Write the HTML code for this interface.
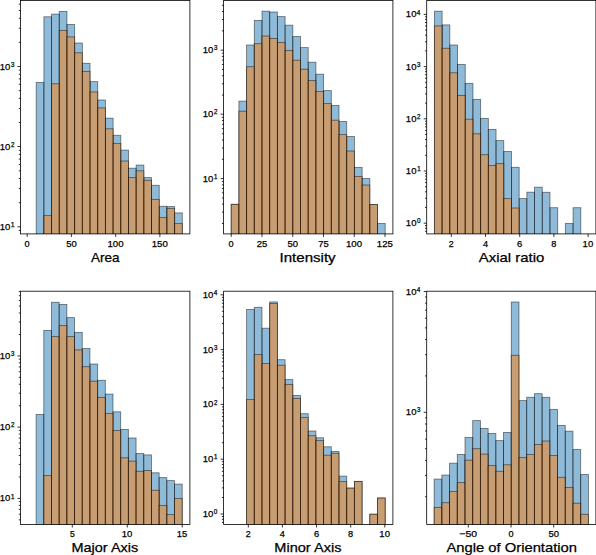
<!DOCTYPE html><html><head><meta charset="utf-8"><style>html,body{margin:0;padding:0;background:#fff;width:596px;height:555px;overflow:hidden}svg{display:block}text{font-family:"Liberation Sans", sans-serif;stroke:#000;stroke-width:0.25px}</style></head><body>
<svg width="596" height="555" viewBox="0 0 596 555">
<rect width="596" height="555" fill="#fff"/>
<defs><clipPath id="c0"><rect x="20.5" y="0.5" width="169.4" height="233.4"/></clipPath><clipPath id="c1"><rect x="223.6" y="0.5" width="169.3" height="233.4"/></clipPath><clipPath id="c2"><rect x="426.7" y="0.5" width="169.2" height="233.4"/></clipPath><clipPath id="c3"><rect x="20.5" y="291.2" width="169.4" height="233.3"/></clipPath><clipPath id="c4"><rect x="223.6" y="291.2" width="169.3" height="233.3"/></clipPath><clipPath id="c5"><rect x="426.7" y="291.2" width="169.2" height="233.3"/></clipPath></defs>
<g clip-path="url(#c0)" stroke="#000" stroke-opacity="0.5" stroke-width="0.87">
<rect x="36.2" y="82.4" width="7.69" height="156.5" fill="#1f77b4" fill-opacity="0.5"/>
<rect x="43.89" y="16.8" width="7.69" height="222.1" fill="#1f77b4" fill-opacity="0.5"/>
<rect x="51.58" y="14.1" width="7.69" height="224.8" fill="#1f77b4" fill-opacity="0.5"/>
<rect x="59.27" y="11.4" width="7.69" height="227.5" fill="#1f77b4" fill-opacity="0.5"/>
<rect x="66.96" y="24.5" width="7.69" height="214.4" fill="#1f77b4" fill-opacity="0.5"/>
<rect x="74.65" y="43" width="7.69" height="195.9" fill="#1f77b4" fill-opacity="0.5"/>
<rect x="82.34" y="63.3" width="7.69" height="175.6" fill="#1f77b4" fill-opacity="0.5"/>
<rect x="90.03" y="81.6" width="7.69" height="157.3" fill="#1f77b4" fill-opacity="0.5"/>
<rect x="97.72" y="100" width="7.69" height="138.9" fill="#1f77b4" fill-opacity="0.5"/>
<rect x="105.41" y="118.2" width="7.69" height="120.7" fill="#1f77b4" fill-opacity="0.5"/>
<rect x="113.09" y="135.3" width="7.69" height="103.6" fill="#1f77b4" fill-opacity="0.5"/>
<rect x="120.78" y="150.1" width="7.69" height="88.8" fill="#1f77b4" fill-opacity="0.5"/>
<rect x="128.47" y="168.2" width="7.69" height="70.7" fill="#1f77b4" fill-opacity="0.5"/>
<rect x="136.16" y="165.1" width="7.69" height="73.8" fill="#1f77b4" fill-opacity="0.5"/>
<rect x="143.85" y="177.6" width="7.69" height="61.3" fill="#1f77b4" fill-opacity="0.5"/>
<rect x="151.54" y="185.3" width="7.69" height="53.6" fill="#1f77b4" fill-opacity="0.5"/>
<rect x="159.23" y="206.3" width="7.69" height="32.6" fill="#1f77b4" fill-opacity="0.5"/>
<rect x="166.92" y="206.6" width="7.69" height="32.3" fill="#1f77b4" fill-opacity="0.5"/>
<rect x="174.61" y="212.9" width="7.69" height="26" fill="#1f77b4" fill-opacity="0.5"/>
<rect x="43.89" y="215.6" width="7.69" height="23.3" fill="#ff7f0e" fill-opacity="0.5"/>
<rect x="51.58" y="83.8" width="7.69" height="155.1" fill="#ff7f0e" fill-opacity="0.5"/>
<rect x="59.27" y="30.4" width="7.69" height="208.5" fill="#ff7f0e" fill-opacity="0.5"/>
<rect x="66.96" y="36.9" width="7.69" height="202" fill="#ff7f0e" fill-opacity="0.5"/>
<rect x="74.65" y="52.8" width="7.69" height="186.1" fill="#ff7f0e" fill-opacity="0.5"/>
<rect x="82.34" y="71.4" width="7.69" height="167.5" fill="#ff7f0e" fill-opacity="0.5"/>
<rect x="90.03" y="92" width="7.69" height="146.9" fill="#ff7f0e" fill-opacity="0.5"/>
<rect x="97.72" y="107.9" width="7.69" height="131" fill="#ff7f0e" fill-opacity="0.5"/>
<rect x="105.41" y="128.8" width="7.69" height="110.1" fill="#ff7f0e" fill-opacity="0.5"/>
<rect x="113.09" y="143.5" width="7.69" height="95.4" fill="#ff7f0e" fill-opacity="0.5"/>
<rect x="120.78" y="161" width="7.69" height="77.9" fill="#ff7f0e" fill-opacity="0.5"/>
<rect x="128.47" y="177.6" width="7.69" height="61.3" fill="#ff7f0e" fill-opacity="0.5"/>
<rect x="136.16" y="170.8" width="7.69" height="68.1" fill="#ff7f0e" fill-opacity="0.5"/>
<rect x="143.85" y="180.3" width="7.69" height="58.6" fill="#ff7f0e" fill-opacity="0.5"/>
<rect x="151.54" y="199.4" width="7.69" height="39.5" fill="#ff7f0e" fill-opacity="0.5"/>
<rect x="159.23" y="217.6" width="7.69" height="21.3" fill="#ff7f0e" fill-opacity="0.5"/>
<rect x="166.92" y="208.4" width="7.69" height="30.5" fill="#ff7f0e" fill-opacity="0.5"/>
<rect x="174.61" y="223.6" width="7.69" height="15.3" fill="#ff7f0e" fill-opacity="0.5"/>
</g>
<rect x="20.5" y="0.5" width="169.4" height="233.4" fill="none" stroke="#000" stroke-width="0.8"/>
<path d="M17.5 66.5H20.5M17.5 146.5H20.5M17.5 226.8H20.5M18.8 230.47H20.5M18.8 202.67H20.5M18.8 188.56H20.5M18.8 178.54H20.5M18.8 170.78H20.5M18.8 164.43H20.5M18.8 159.07H20.5M18.8 154.42H20.5M18.8 150.32H20.5M18.8 122.52H20.5M18.8 108.41H20.5M18.8 98.39H20.5M18.8 90.63H20.5M18.8 84.28H20.5M18.8 78.92H20.5M18.8 74.27H20.5M18.8 70.17H20.5M18.8 42.37H20.5M18.8 28.26H20.5M18.8 18.24H20.5M18.8 10.48H20.5M18.8 4.13H20.5M27.2 233.9V236.9M71.43 233.9V236.9M115.66 233.9V236.9M159.89 233.9V236.9" stroke="#000" stroke-width="0.8" fill="none"/>
<text x="10.89" y="66.6" font-size="6.34" textLength="3.43" lengthAdjust="spacingAndGlyphs">3</text><text x="-0.33" y="69.5" font-size="9.05" textLength="10.61" lengthAdjust="spacingAndGlyphs">10</text>
<text x="10.92" y="146.6" font-size="6.34" textLength="3.45" lengthAdjust="spacingAndGlyphs">2</text><text x="-0.33" y="149.5" font-size="9.05" textLength="10.61" lengthAdjust="spacingAndGlyphs">10</text>
<text x="10.95" y="226.9" font-size="6.34" textLength="3.4" lengthAdjust="spacingAndGlyphs">1</text><text x="-0.33" y="229.8" font-size="9.05" textLength="10.61" lengthAdjust="spacingAndGlyphs">10</text>
<text x="24.64" y="246.55" font-size="9.05" textLength="5.1" lengthAdjust="spacingAndGlyphs">0</text>
<text x="66.15" y="246.55" font-size="9.05" textLength="10.55" lengthAdjust="spacingAndGlyphs">50</text>
<text x="107.43" y="246.55" font-size="9.05" textLength="16.12" lengthAdjust="spacingAndGlyphs">100</text>
<text x="151.66" y="246.55" font-size="9.05" textLength="16.12" lengthAdjust="spacingAndGlyphs">150</text>
<text x="90.91" y="261.8" font-size="13" textLength="28.55" lengthAdjust="spacingAndGlyphs">Area</text>
<g clip-path="url(#c1)" stroke="#000" stroke-opacity="0.5" stroke-width="0.87">
<rect x="231.2" y="204.3" width="7.7" height="34.6" fill="#1f77b4" fill-opacity="0.5"/>
<rect x="238.9" y="101.1" width="7.7" height="137.8" fill="#1f77b4" fill-opacity="0.5"/>
<rect x="246.6" y="45" width="7.7" height="193.9" fill="#1f77b4" fill-opacity="0.5"/>
<rect x="254.3" y="20.5" width="7.7" height="218.4" fill="#1f77b4" fill-opacity="0.5"/>
<rect x="262" y="11.2" width="7.7" height="227.7" fill="#1f77b4" fill-opacity="0.5"/>
<rect x="269.7" y="12" width="7.7" height="226.9" fill="#1f77b4" fill-opacity="0.5"/>
<rect x="277.4" y="16.6" width="7.7" height="222.3" fill="#1f77b4" fill-opacity="0.5"/>
<rect x="285.1" y="25.2" width="7.7" height="213.7" fill="#1f77b4" fill-opacity="0.5"/>
<rect x="292.8" y="36.5" width="7.7" height="202.4" fill="#1f77b4" fill-opacity="0.5"/>
<rect x="300.5" y="47.6" width="7.7" height="191.3" fill="#1f77b4" fill-opacity="0.5"/>
<rect x="308.2" y="62.2" width="7.7" height="176.7" fill="#1f77b4" fill-opacity="0.5"/>
<rect x="315.9" y="74.2" width="7.7" height="164.7" fill="#1f77b4" fill-opacity="0.5"/>
<rect x="323.6" y="90.6" width="7.7" height="148.3" fill="#1f77b4" fill-opacity="0.5"/>
<rect x="331.3" y="105.5" width="7.7" height="133.4" fill="#1f77b4" fill-opacity="0.5"/>
<rect x="339" y="121.5" width="7.7" height="117.4" fill="#1f77b4" fill-opacity="0.5"/>
<rect x="346.7" y="136.5" width="7.7" height="102.4" fill="#1f77b4" fill-opacity="0.5"/>
<rect x="354.4" y="167.4" width="7.7" height="71.5" fill="#1f77b4" fill-opacity="0.5"/>
<rect x="362.1" y="178.5" width="7.7" height="60.4" fill="#1f77b4" fill-opacity="0.5"/>
<rect x="369.8" y="204.5" width="7.7" height="34.4" fill="#1f77b4" fill-opacity="0.5"/>
<rect x="377.5" y="223.5" width="7.7" height="15.4" fill="#1f77b4" fill-opacity="0.5"/>
<rect x="231.2" y="204.3" width="7.7" height="34.6" fill="#ff7f0e" fill-opacity="0.5"/>
<rect x="238.9" y="111.2" width="7.7" height="127.7" fill="#ff7f0e" fill-opacity="0.5"/>
<rect x="246.6" y="66.7" width="7.7" height="172.2" fill="#ff7f0e" fill-opacity="0.5"/>
<rect x="254.3" y="43.7" width="7.7" height="195.2" fill="#ff7f0e" fill-opacity="0.5"/>
<rect x="262" y="36" width="7.7" height="202.9" fill="#ff7f0e" fill-opacity="0.5"/>
<rect x="269.7" y="38.5" width="7.7" height="200.4" fill="#ff7f0e" fill-opacity="0.5"/>
<rect x="277.4" y="42.5" width="7.7" height="196.4" fill="#ff7f0e" fill-opacity="0.5"/>
<rect x="285.1" y="50.5" width="7.7" height="188.4" fill="#ff7f0e" fill-opacity="0.5"/>
<rect x="292.8" y="60.2" width="7.7" height="178.7" fill="#ff7f0e" fill-opacity="0.5"/>
<rect x="300.5" y="69.2" width="7.7" height="169.7" fill="#ff7f0e" fill-opacity="0.5"/>
<rect x="308.2" y="80.6" width="7.7" height="158.3" fill="#ff7f0e" fill-opacity="0.5"/>
<rect x="315.9" y="91.5" width="7.7" height="147.4" fill="#ff7f0e" fill-opacity="0.5"/>
<rect x="323.6" y="103.6" width="7.7" height="135.3" fill="#ff7f0e" fill-opacity="0.5"/>
<rect x="331.3" y="120.2" width="7.7" height="118.7" fill="#ff7f0e" fill-opacity="0.5"/>
<rect x="339" y="134.6" width="7.7" height="104.3" fill="#ff7f0e" fill-opacity="0.5"/>
<rect x="346.7" y="151" width="7.7" height="87.9" fill="#ff7f0e" fill-opacity="0.5"/>
<rect x="354.4" y="176.4" width="7.7" height="62.5" fill="#ff7f0e" fill-opacity="0.5"/>
<rect x="362.1" y="185" width="7.7" height="53.9" fill="#ff7f0e" fill-opacity="0.5"/>
<rect x="369.8" y="204.5" width="7.7" height="34.4" fill="#ff7f0e" fill-opacity="0.5"/>
</g>
<rect x="223.6" y="0.5" width="169.3" height="233.4" fill="none" stroke="#000" stroke-width="0.8"/>
<path d="M220.6 50.2H223.6M220.6 114.2H223.6M220.6 178.6H223.6M221.9 223.47H223.6M221.9 212.17H223.6M221.9 204.15H223.6M221.9 197.93H223.6M221.9 192.84H223.6M221.9 188.54H223.6M221.9 184.82H223.6M221.9 181.54H223.6M221.9 159.27H223.6M221.9 147.97H223.6M221.9 139.95H223.6M221.9 133.73H223.6M221.9 128.64H223.6M221.9 124.34H223.6M221.9 120.62H223.6M221.9 117.34H223.6M221.9 95.07H223.6M221.9 83.77H223.6M221.9 75.75H223.6M221.9 69.53H223.6M221.9 64.44H223.6M221.9 60.14H223.6M221.9 56.42H223.6M221.9 53.14H223.6M221.9 30.87H223.6M221.9 19.57H223.6M221.9 11.55H223.6M221.9 5.33H223.6M231.2 233.9V236.9M261.96 233.9V236.9M292.72 233.9V236.9M323.48 233.9V236.9M354.24 233.9V236.9M385 233.9V236.9" stroke="#000" stroke-width="0.8" fill="none"/>
<text x="213.99" y="50.3" font-size="6.34" textLength="3.43" lengthAdjust="spacingAndGlyphs">3</text><text x="202.77" y="53.2" font-size="9.05" textLength="10.61" lengthAdjust="spacingAndGlyphs">10</text>
<text x="214.02" y="114.3" font-size="6.34" textLength="3.45" lengthAdjust="spacingAndGlyphs">2</text><text x="202.77" y="117.2" font-size="9.05" textLength="10.61" lengthAdjust="spacingAndGlyphs">10</text>
<text x="214.05" y="178.7" font-size="6.34" textLength="3.4" lengthAdjust="spacingAndGlyphs">1</text><text x="202.77" y="181.6" font-size="9.05" textLength="10.61" lengthAdjust="spacingAndGlyphs">10</text>
<text x="228.64" y="246.55" font-size="9.05" textLength="5.1" lengthAdjust="spacingAndGlyphs">0</text>
<text x="256.65" y="246.55" font-size="9.05" textLength="10.54" lengthAdjust="spacingAndGlyphs">25</text>
<text x="287.44" y="246.55" font-size="9.05" textLength="10.55" lengthAdjust="spacingAndGlyphs">50</text>
<text x="318.22" y="246.55" font-size="9.05" textLength="10.45" lengthAdjust="spacingAndGlyphs">75</text>
<text x="346.01" y="246.55" font-size="9.05" textLength="16.12" lengthAdjust="spacingAndGlyphs">100</text>
<text x="376.86" y="246.55" font-size="9.05" textLength="15.96" lengthAdjust="spacingAndGlyphs">125</text>
<text x="279.5" y="261.8" font-size="13" textLength="56.13" lengthAdjust="spacingAndGlyphs">Intensity</text>
<g clip-path="url(#c2)" stroke="#000" stroke-opacity="0.5" stroke-width="0.87">
<rect x="434.4" y="11.2" width="7.71" height="227.7" fill="#1f77b4" fill-opacity="0.5"/>
<rect x="442.1" y="24.9" width="7.71" height="214" fill="#1f77b4" fill-opacity="0.5"/>
<rect x="449.81" y="45" width="7.71" height="193.9" fill="#1f77b4" fill-opacity="0.5"/>
<rect x="457.51" y="64.4" width="7.71" height="174.5" fill="#1f77b4" fill-opacity="0.5"/>
<rect x="465.22" y="83.4" width="7.71" height="155.5" fill="#1f77b4" fill-opacity="0.5"/>
<rect x="472.92" y="99.4" width="7.71" height="139.5" fill="#1f77b4" fill-opacity="0.5"/>
<rect x="480.63" y="118.4" width="7.71" height="120.5" fill="#1f77b4" fill-opacity="0.5"/>
<rect x="488.33" y="129.4" width="7.71" height="109.5" fill="#1f77b4" fill-opacity="0.5"/>
<rect x="496.04" y="140.6" width="7.71" height="98.3" fill="#1f77b4" fill-opacity="0.5"/>
<rect x="503.75" y="151.5" width="7.71" height="87.4" fill="#1f77b4" fill-opacity="0.5"/>
<rect x="511.45" y="167.3" width="7.71" height="71.6" fill="#1f77b4" fill-opacity="0.5"/>
<rect x="519.15" y="198.6" width="7.71" height="40.3" fill="#1f77b4" fill-opacity="0.5"/>
<rect x="526.86" y="192.2" width="7.71" height="46.7" fill="#1f77b4" fill-opacity="0.5"/>
<rect x="534.56" y="187.2" width="7.71" height="51.7" fill="#1f77b4" fill-opacity="0.5"/>
<rect x="542.27" y="192.3" width="7.71" height="46.6" fill="#1f77b4" fill-opacity="0.5"/>
<rect x="549.98" y="207.7" width="7.71" height="31.2" fill="#1f77b4" fill-opacity="0.5"/>
<rect x="565.38" y="223.4" width="7.71" height="15.5" fill="#1f77b4" fill-opacity="0.5"/>
<rect x="573.09" y="207.7" width="7.71" height="31.2" fill="#1f77b4" fill-opacity="0.5"/>
<rect x="434.4" y="25.9" width="7.71" height="213" fill="#ff7f0e" fill-opacity="0.5"/>
<rect x="442.1" y="48.3" width="7.71" height="190.6" fill="#ff7f0e" fill-opacity="0.5"/>
<rect x="449.81" y="72.8" width="7.71" height="166.1" fill="#ff7f0e" fill-opacity="0.5"/>
<rect x="457.51" y="95.4" width="7.71" height="143.5" fill="#ff7f0e" fill-opacity="0.5"/>
<rect x="465.22" y="119.2" width="7.71" height="119.7" fill="#ff7f0e" fill-opacity="0.5"/>
<rect x="472.92" y="133.8" width="7.71" height="105.1" fill="#ff7f0e" fill-opacity="0.5"/>
<rect x="480.63" y="154.7" width="7.71" height="84.2" fill="#ff7f0e" fill-opacity="0.5"/>
<rect x="488.33" y="165.5" width="7.71" height="73.4" fill="#ff7f0e" fill-opacity="0.5"/>
<rect x="496.04" y="163.6" width="7.71" height="75.3" fill="#ff7f0e" fill-opacity="0.5"/>
<rect x="503.75" y="198.6" width="7.71" height="40.3" fill="#ff7f0e" fill-opacity="0.5"/>
<rect x="511.45" y="208" width="7.71" height="30.9" fill="#ff7f0e" fill-opacity="0.5"/>
</g>
<rect x="426.7" y="0.5" width="169.2" height="233.4" fill="none" stroke="#000" stroke-width="0.8"/>
<path d="M423.7 14.4H426.7M423.7 66.6H426.7M423.7 118.8H426.7M423.7 171H426.7M423.7 223.2H426.7M425 231.29H426.7M425 228.26H426.7M425 225.59H426.7M425 207.49H426.7M425 198.29H426.7M425 191.77H426.7M425 186.71H426.7M425 182.58H426.7M425 179.09H426.7M425 176.06H426.7M425 173.39H426.7M425 155.29H426.7M425 146.09H426.7M425 139.57H426.7M425 134.51H426.7M425 130.38H426.7M425 126.89H426.7M425 123.86H426.7M425 121.19H426.7M425 103.09H426.7M425 93.89H426.7M425 87.37H426.7M425 82.31H426.7M425 78.18H426.7M425 74.69H426.7M425 71.66H426.7M425 68.99H426.7M425 50.89H426.7M425 41.69H426.7M425 35.17H426.7M425 30.11H426.7M425 25.98H426.7M425 22.49H426.7M425 19.46H426.7M425 16.79H426.7M451.3 233.9V236.9M485.5 233.9V236.9M519.7 233.9V236.9M553.9 233.9V236.9M588.1 233.9V236.9" stroke="#000" stroke-width="0.8" fill="none"/>
<text x="416.87" y="14.5" font-size="6.34" textLength="3.56" lengthAdjust="spacingAndGlyphs">4</text><text x="405.87" y="17.4" font-size="9.05" textLength="10.61" lengthAdjust="spacingAndGlyphs">10</text>
<text x="417.09" y="66.7" font-size="6.34" textLength="3.43" lengthAdjust="spacingAndGlyphs">3</text><text x="405.87" y="69.6" font-size="9.05" textLength="10.61" lengthAdjust="spacingAndGlyphs">10</text>
<text x="417.12" y="118.9" font-size="6.34" textLength="3.45" lengthAdjust="spacingAndGlyphs">2</text><text x="405.87" y="121.8" font-size="9.05" textLength="10.61" lengthAdjust="spacingAndGlyphs">10</text>
<text x="417.15" y="171.1" font-size="6.34" textLength="3.4" lengthAdjust="spacingAndGlyphs">1</text><text x="405.87" y="174" font-size="9.05" textLength="10.61" lengthAdjust="spacingAndGlyphs">10</text>
<text x="416.93" y="223.3" font-size="6.34" textLength="3.57" lengthAdjust="spacingAndGlyphs">0</text><text x="405.87" y="226.2" font-size="9.05" textLength="10.61" lengthAdjust="spacingAndGlyphs">10</text>
<text x="448.84" y="246.55" font-size="9.05" textLength="4.93" lengthAdjust="spacingAndGlyphs">2</text>
<text x="482.99" y="246.55" font-size="9.05" textLength="5.08" lengthAdjust="spacingAndGlyphs">4</text>
<text x="517.05" y="246.55" font-size="9.05" textLength="5.24" lengthAdjust="spacingAndGlyphs">6</text>
<text x="551.34" y="246.55" font-size="9.05" textLength="5.13" lengthAdjust="spacingAndGlyphs">8</text>
<text x="582.63" y="246.55" font-size="9.05" textLength="10.61" lengthAdjust="spacingAndGlyphs">10</text>
<text x="478.86" y="261.8" font-size="13" textLength="65.46" lengthAdjust="spacingAndGlyphs">Axial ratio</text>
<g clip-path="url(#c3)" stroke="#000" stroke-opacity="0.5" stroke-width="0.87">
<rect x="36.1" y="414.4" width="7.69" height="115.1" fill="#1f77b4" fill-opacity="0.5"/>
<rect x="43.79" y="330.4" width="7.69" height="199.1" fill="#1f77b4" fill-opacity="0.5"/>
<rect x="51.48" y="302.3" width="7.69" height="227.2" fill="#1f77b4" fill-opacity="0.5"/>
<rect x="59.17" y="304.5" width="7.69" height="225" fill="#1f77b4" fill-opacity="0.5"/>
<rect x="66.86" y="317.6" width="7.69" height="211.9" fill="#1f77b4" fill-opacity="0.5"/>
<rect x="74.55" y="332.4" width="7.69" height="197.1" fill="#1f77b4" fill-opacity="0.5"/>
<rect x="82.24" y="348.5" width="7.69" height="181" fill="#1f77b4" fill-opacity="0.5"/>
<rect x="89.93" y="364" width="7.69" height="165.5" fill="#1f77b4" fill-opacity="0.5"/>
<rect x="97.62" y="380.3" width="7.69" height="149.2" fill="#1f77b4" fill-opacity="0.5"/>
<rect x="105.31" y="394.1" width="7.69" height="135.4" fill="#1f77b4" fill-opacity="0.5"/>
<rect x="112.99" y="411.8" width="7.69" height="117.7" fill="#1f77b4" fill-opacity="0.5"/>
<rect x="120.68" y="429.4" width="7.69" height="100.1" fill="#1f77b4" fill-opacity="0.5"/>
<rect x="128.37" y="438" width="7.69" height="91.5" fill="#1f77b4" fill-opacity="0.5"/>
<rect x="136.06" y="453.5" width="7.69" height="76" fill="#1f77b4" fill-opacity="0.5"/>
<rect x="143.75" y="454.9" width="7.69" height="74.6" fill="#1f77b4" fill-opacity="0.5"/>
<rect x="151.44" y="472.8" width="7.69" height="56.7" fill="#1f77b4" fill-opacity="0.5"/>
<rect x="159.13" y="477.6" width="7.69" height="51.9" fill="#1f77b4" fill-opacity="0.5"/>
<rect x="166.82" y="480.6" width="7.69" height="48.9" fill="#1f77b4" fill-opacity="0.5"/>
<rect x="174.51" y="484.1" width="7.69" height="45.4" fill="#1f77b4" fill-opacity="0.5"/>
<rect x="43.79" y="475.6" width="7.69" height="53.9" fill="#ff7f0e" fill-opacity="0.5"/>
<rect x="51.48" y="336.6" width="7.69" height="192.9" fill="#ff7f0e" fill-opacity="0.5"/>
<rect x="59.17" y="325.6" width="7.69" height="203.9" fill="#ff7f0e" fill-opacity="0.5"/>
<rect x="66.86" y="336.6" width="7.69" height="192.9" fill="#ff7f0e" fill-opacity="0.5"/>
<rect x="74.55" y="349.9" width="7.69" height="179.6" fill="#ff7f0e" fill-opacity="0.5"/>
<rect x="82.24" y="366.7" width="7.69" height="162.8" fill="#ff7f0e" fill-opacity="0.5"/>
<rect x="89.93" y="381.2" width="7.69" height="148.3" fill="#ff7f0e" fill-opacity="0.5"/>
<rect x="97.62" y="397.4" width="7.69" height="132.1" fill="#ff7f0e" fill-opacity="0.5"/>
<rect x="105.31" y="413.5" width="7.69" height="116" fill="#ff7f0e" fill-opacity="0.5"/>
<rect x="112.99" y="430.5" width="7.69" height="99" fill="#ff7f0e" fill-opacity="0.5"/>
<rect x="120.68" y="457.8" width="7.69" height="71.7" fill="#ff7f0e" fill-opacity="0.5"/>
<rect x="128.37" y="461.1" width="7.69" height="68.4" fill="#ff7f0e" fill-opacity="0.5"/>
<rect x="136.06" y="471.3" width="7.69" height="58.2" fill="#ff7f0e" fill-opacity="0.5"/>
<rect x="143.75" y="470.5" width="7.69" height="59" fill="#ff7f0e" fill-opacity="0.5"/>
<rect x="151.44" y="490.3" width="7.69" height="39.2" fill="#ff7f0e" fill-opacity="0.5"/>
<rect x="159.13" y="505.4" width="7.69" height="24.1" fill="#ff7f0e" fill-opacity="0.5"/>
<rect x="166.82" y="514.6" width="7.69" height="14.9" fill="#ff7f0e" fill-opacity="0.5"/>
<rect x="174.51" y="498.4" width="7.69" height="31.1" fill="#ff7f0e" fill-opacity="0.5"/>
</g>
<rect x="20.5" y="291.2" width="169.4" height="233.3" fill="none" stroke="#000" stroke-width="0.8"/>
<path d="M17.5 355.9H20.5M17.5 427.15H20.5M17.5 498.4H20.5M18.8 519.85H20.5M18.8 514.21H20.5M18.8 509.44H20.5M18.8 505.3H20.5M18.8 501.66H20.5M18.8 476.95H20.5M18.8 464.41H20.5M18.8 455.5H20.5M18.8 448.6H20.5M18.8 442.96H20.5M18.8 438.19H20.5M18.8 434.05H20.5M18.8 430.41H20.5M18.8 405.7H20.5M18.8 393.16H20.5M18.8 384.25H20.5M18.8 377.35H20.5M18.8 371.71H20.5M18.8 366.94H20.5M18.8 362.8H20.5M18.8 359.16H20.5M18.8 334.45H20.5M18.8 321.91H20.5M18.8 313H20.5M18.8 306.1H20.5M18.8 300.46H20.5M18.8 295.69H20.5M18.8 291.55H20.5M72.3 524.5V527.5M127.25 524.5V527.5M182.2 524.5V527.5" stroke="#000" stroke-width="0.8" fill="none"/>
<text x="10.89" y="356" font-size="6.34" textLength="3.43" lengthAdjust="spacingAndGlyphs">3</text><text x="-0.33" y="358.9" font-size="9.05" textLength="10.61" lengthAdjust="spacingAndGlyphs">10</text>
<text x="10.92" y="427.25" font-size="6.34" textLength="3.45" lengthAdjust="spacingAndGlyphs">2</text><text x="-0.33" y="430.15" font-size="9.05" textLength="10.61" lengthAdjust="spacingAndGlyphs">10</text>
<text x="10.95" y="498.5" font-size="6.34" textLength="3.4" lengthAdjust="spacingAndGlyphs">1</text><text x="-0.33" y="501.4" font-size="9.05" textLength="10.61" lengthAdjust="spacingAndGlyphs">10</text>
<text x="69.91" y="537.15" font-size="9.05" textLength="4.8" lengthAdjust="spacingAndGlyphs">5</text>
<text x="121.78" y="537.15" font-size="9.05" textLength="10.61" lengthAdjust="spacingAndGlyphs">10</text>
<text x="176.82" y="537.15" font-size="9.05" textLength="10.44" lengthAdjust="spacingAndGlyphs">15</text>
<text x="71.49" y="552.4" font-size="13" textLength="66.74" lengthAdjust="spacingAndGlyphs">Major Axis</text>
<g clip-path="url(#c4)" stroke="#000" stroke-opacity="0.5" stroke-width="0.87">
<rect x="246.6" y="309.5" width="7.7" height="220" fill="#1f77b4" fill-opacity="0.5"/>
<rect x="254.3" y="307.3" width="7.7" height="222.2" fill="#1f77b4" fill-opacity="0.5"/>
<rect x="262" y="328.2" width="7.7" height="201.3" fill="#1f77b4" fill-opacity="0.5"/>
<rect x="269.7" y="301.9" width="7.7" height="227.6" fill="#1f77b4" fill-opacity="0.5"/>
<rect x="277.4" y="359.7" width="7.7" height="169.8" fill="#1f77b4" fill-opacity="0.5"/>
<rect x="285.1" y="379.6" width="7.7" height="149.9" fill="#1f77b4" fill-opacity="0.5"/>
<rect x="292.8" y="395.5" width="7.7" height="134" fill="#1f77b4" fill-opacity="0.5"/>
<rect x="300.5" y="413.7" width="7.7" height="115.8" fill="#1f77b4" fill-opacity="0.5"/>
<rect x="308.2" y="431" width="7.7" height="98.5" fill="#1f77b4" fill-opacity="0.5"/>
<rect x="315.9" y="437.8" width="7.7" height="91.7" fill="#1f77b4" fill-opacity="0.5"/>
<rect x="323.6" y="446.8" width="7.7" height="82.7" fill="#1f77b4" fill-opacity="0.5"/>
<rect x="331.3" y="451.5" width="7.7" height="78" fill="#1f77b4" fill-opacity="0.5"/>
<rect x="339" y="476.1" width="7.7" height="53.4" fill="#1f77b4" fill-opacity="0.5"/>
<rect x="346.7" y="488.1" width="7.7" height="41.4" fill="#1f77b4" fill-opacity="0.5"/>
<rect x="354.4" y="481.4" width="7.7" height="48.1" fill="#1f77b4" fill-opacity="0.5"/>
<rect x="369.8" y="514.2" width="7.7" height="15.3" fill="#1f77b4" fill-opacity="0.5"/>
<rect x="377.5" y="498" width="7.7" height="31.5" fill="#1f77b4" fill-opacity="0.5"/>
<rect x="246.6" y="399.5" width="7.7" height="130" fill="#ff7f0e" fill-opacity="0.5"/>
<rect x="254.3" y="354.5" width="7.7" height="175" fill="#ff7f0e" fill-opacity="0.5"/>
<rect x="262" y="363.5" width="7.7" height="166" fill="#ff7f0e" fill-opacity="0.5"/>
<rect x="269.7" y="303.5" width="7.7" height="226" fill="#ff7f0e" fill-opacity="0.5"/>
<rect x="277.4" y="365.2" width="7.7" height="164.3" fill="#ff7f0e" fill-opacity="0.5"/>
<rect x="285.1" y="384.4" width="7.7" height="145.1" fill="#ff7f0e" fill-opacity="0.5"/>
<rect x="292.8" y="398.4" width="7.7" height="131.1" fill="#ff7f0e" fill-opacity="0.5"/>
<rect x="300.5" y="417.4" width="7.7" height="112.1" fill="#ff7f0e" fill-opacity="0.5"/>
<rect x="308.2" y="435.7" width="7.7" height="93.8" fill="#ff7f0e" fill-opacity="0.5"/>
<rect x="315.9" y="440.6" width="7.7" height="88.9" fill="#ff7f0e" fill-opacity="0.5"/>
<rect x="323.6" y="455.2" width="7.7" height="74.3" fill="#ff7f0e" fill-opacity="0.5"/>
<rect x="331.3" y="453.3" width="7.7" height="76.2" fill="#ff7f0e" fill-opacity="0.5"/>
<rect x="339" y="481.6" width="7.7" height="47.9" fill="#ff7f0e" fill-opacity="0.5"/>
<rect x="346.7" y="488.1" width="7.7" height="41.4" fill="#ff7f0e" fill-opacity="0.5"/>
<rect x="354.4" y="481.4" width="7.7" height="48.1" fill="#ff7f0e" fill-opacity="0.5"/>
<rect x="369.8" y="514.2" width="7.7" height="15.3" fill="#ff7f0e" fill-opacity="0.5"/>
<rect x="377.5" y="498" width="7.7" height="31.5" fill="#ff7f0e" fill-opacity="0.5"/>
</g>
<rect x="223.6" y="291.2" width="169.3" height="233.3" fill="none" stroke="#000" stroke-width="0.8"/>
<path d="M220.6 294.8H223.6M220.6 349.6H223.6M220.6 404.4H223.6M220.6 459.2H223.6M220.6 514H223.6M221.9 522.49H223.6M221.9 519.31H223.6M221.9 516.51H223.6M221.9 497.5H223.6M221.9 487.85H223.6M221.9 481.01H223.6M221.9 475.7H223.6M221.9 471.36H223.6M221.9 467.69H223.6M221.9 464.51H223.6M221.9 461.71H223.6M221.9 442.7H223.6M221.9 433.05H223.6M221.9 426.21H223.6M221.9 420.9H223.6M221.9 416.56H223.6M221.9 412.89H223.6M221.9 409.71H223.6M221.9 406.91H223.6M221.9 387.9H223.6M221.9 378.25H223.6M221.9 371.41H223.6M221.9 366.1H223.6M221.9 361.76H223.6M221.9 358.09H223.6M221.9 354.91H223.6M221.9 352.11H223.6M221.9 333.1H223.6M221.9 323.45H223.6M221.9 316.61H223.6M221.9 311.3H223.6M221.9 306.96H223.6M221.9 303.29H223.6M221.9 300.11H223.6M221.9 297.31H223.6M248.3 524.5V527.5M282.4 524.5V527.5M316.55 524.5V527.5M350.7 524.5V527.5M384.8 524.5V527.5" stroke="#000" stroke-width="0.8" fill="none"/>
<text x="213.77" y="294.9" font-size="6.34" textLength="3.56" lengthAdjust="spacingAndGlyphs">4</text><text x="202.77" y="297.8" font-size="9.05" textLength="10.61" lengthAdjust="spacingAndGlyphs">10</text>
<text x="213.99" y="349.7" font-size="6.34" textLength="3.43" lengthAdjust="spacingAndGlyphs">3</text><text x="202.77" y="352.6" font-size="9.05" textLength="10.61" lengthAdjust="spacingAndGlyphs">10</text>
<text x="214.02" y="404.5" font-size="6.34" textLength="3.45" lengthAdjust="spacingAndGlyphs">2</text><text x="202.77" y="407.4" font-size="9.05" textLength="10.61" lengthAdjust="spacingAndGlyphs">10</text>
<text x="214.05" y="459.3" font-size="6.34" textLength="3.4" lengthAdjust="spacingAndGlyphs">1</text><text x="202.77" y="462.2" font-size="9.05" textLength="10.61" lengthAdjust="spacingAndGlyphs">10</text>
<text x="213.83" y="514.1" font-size="6.34" textLength="3.57" lengthAdjust="spacingAndGlyphs">0</text><text x="202.77" y="517" font-size="9.05" textLength="10.61" lengthAdjust="spacingAndGlyphs">10</text>
<text x="245.84" y="537.15" font-size="9.05" textLength="4.93" lengthAdjust="spacingAndGlyphs">2</text>
<text x="279.89" y="537.15" font-size="9.05" textLength="5.08" lengthAdjust="spacingAndGlyphs">4</text>
<text x="313.9" y="537.15" font-size="9.05" textLength="5.24" lengthAdjust="spacingAndGlyphs">6</text>
<text x="348.14" y="537.15" font-size="9.05" textLength="5.13" lengthAdjust="spacingAndGlyphs">8</text>
<text x="379.33" y="537.15" font-size="9.05" textLength="10.61" lengthAdjust="spacingAndGlyphs">10</text>
<text x="274.38" y="552.4" font-size="13" textLength="67.04" lengthAdjust="spacingAndGlyphs">Minor Axis</text>
<g clip-path="url(#c5)" stroke="#000" stroke-opacity="0.5" stroke-width="0.87">
<rect x="434.15" y="479.1" width="7.71" height="50.4" fill="#1f77b4" fill-opacity="0.5"/>
<rect x="441.86" y="475.1" width="7.71" height="54.4" fill="#1f77b4" fill-opacity="0.5"/>
<rect x="449.57" y="463.2" width="7.71" height="66.3" fill="#1f77b4" fill-opacity="0.5"/>
<rect x="457.29" y="454.5" width="7.71" height="75" fill="#1f77b4" fill-opacity="0.5"/>
<rect x="465" y="437.5" width="7.71" height="92" fill="#1f77b4" fill-opacity="0.5"/>
<rect x="472.71" y="420.6" width="7.71" height="108.9" fill="#1f77b4" fill-opacity="0.5"/>
<rect x="480.42" y="428.4" width="7.71" height="101.1" fill="#1f77b4" fill-opacity="0.5"/>
<rect x="488.14" y="433.4" width="7.71" height="96.1" fill="#1f77b4" fill-opacity="0.5"/>
<rect x="495.85" y="440.6" width="7.71" height="88.9" fill="#1f77b4" fill-opacity="0.5"/>
<rect x="503.56" y="432.5" width="7.71" height="97" fill="#1f77b4" fill-opacity="0.5"/>
<rect x="511.27" y="302" width="7.71" height="227.5" fill="#1f77b4" fill-opacity="0.5"/>
<rect x="518.99" y="400.6" width="7.71" height="128.9" fill="#1f77b4" fill-opacity="0.5"/>
<rect x="526.7" y="397.3" width="7.71" height="132.2" fill="#1f77b4" fill-opacity="0.5"/>
<rect x="534.41" y="393.7" width="7.71" height="135.8" fill="#1f77b4" fill-opacity="0.5"/>
<rect x="542.12" y="397.3" width="7.71" height="132.2" fill="#1f77b4" fill-opacity="0.5"/>
<rect x="549.84" y="409.5" width="7.71" height="120" fill="#1f77b4" fill-opacity="0.5"/>
<rect x="557.55" y="425.4" width="7.71" height="104.1" fill="#1f77b4" fill-opacity="0.5"/>
<rect x="565.26" y="431.2" width="7.71" height="98.3" fill="#1f77b4" fill-opacity="0.5"/>
<rect x="572.98" y="449.5" width="7.71" height="80" fill="#1f77b4" fill-opacity="0.5"/>
<rect x="580.69" y="474.5" width="7.71" height="55" fill="#1f77b4" fill-opacity="0.5"/>
<rect x="434.15" y="507.4" width="7.71" height="22.1" fill="#ff7f0e" fill-opacity="0.5"/>
<rect x="441.86" y="502.7" width="7.71" height="26.8" fill="#ff7f0e" fill-opacity="0.5"/>
<rect x="449.57" y="491.5" width="7.71" height="38" fill="#ff7f0e" fill-opacity="0.5"/>
<rect x="457.29" y="482.6" width="7.71" height="46.9" fill="#ff7f0e" fill-opacity="0.5"/>
<rect x="465" y="460.2" width="7.71" height="69.3" fill="#ff7f0e" fill-opacity="0.5"/>
<rect x="472.71" y="448.7" width="7.71" height="80.8" fill="#ff7f0e" fill-opacity="0.5"/>
<rect x="480.42" y="454.1" width="7.71" height="75.4" fill="#ff7f0e" fill-opacity="0.5"/>
<rect x="488.14" y="465.6" width="7.71" height="63.9" fill="#ff7f0e" fill-opacity="0.5"/>
<rect x="495.85" y="471.3" width="7.71" height="58.2" fill="#ff7f0e" fill-opacity="0.5"/>
<rect x="503.56" y="464.8" width="7.71" height="64.7" fill="#ff7f0e" fill-opacity="0.5"/>
<rect x="511.27" y="355.3" width="7.71" height="174.2" fill="#ff7f0e" fill-opacity="0.5"/>
<rect x="518.99" y="457.6" width="7.71" height="71.9" fill="#ff7f0e" fill-opacity="0.5"/>
<rect x="526.7" y="454.4" width="7.71" height="75.1" fill="#ff7f0e" fill-opacity="0.5"/>
<rect x="534.41" y="444.5" width="7.71" height="85" fill="#ff7f0e" fill-opacity="0.5"/>
<rect x="542.12" y="441" width="7.71" height="88.5" fill="#ff7f0e" fill-opacity="0.5"/>
<rect x="549.84" y="455.5" width="7.71" height="74" fill="#ff7f0e" fill-opacity="0.5"/>
<rect x="557.55" y="477.3" width="7.71" height="52.2" fill="#ff7f0e" fill-opacity="0.5"/>
<rect x="565.26" y="487.5" width="7.71" height="42" fill="#ff7f0e" fill-opacity="0.5"/>
<rect x="572.98" y="503.2" width="7.71" height="26.3" fill="#ff7f0e" fill-opacity="0.5"/>
<rect x="580.69" y="514.3" width="7.71" height="15.2" fill="#ff7f0e" fill-opacity="0.5"/>
</g>
<rect x="426.7" y="291.2" width="169.2" height="233.3" fill="none" stroke="#000" stroke-width="0.8"/>
<path d="M423.7 291.5H426.7M423.7 412.3H426.7M425 496.74H426.7M425 475.46H426.7M425 460.37H426.7M425 448.66H426.7M425 439.1H426.7M425 431.01H426.7M425 424.01H426.7M425 417.83H426.7M425 375.94H426.7M425 354.66H426.7M425 339.57H426.7M425 327.86H426.7M425 318.3H426.7M425 310.21H426.7M425 303.21H426.7M425 297.03H426.7M468.3 524.5V527.5M511 524.5V527.5M553.7 524.5V527.5" stroke="#000" stroke-width="0.8" fill="none"/>
<text x="416.87" y="291.6" font-size="6.34" textLength="3.56" lengthAdjust="spacingAndGlyphs">4</text><text x="405.87" y="294.5" font-size="9.05" textLength="10.61" lengthAdjust="spacingAndGlyphs">10</text>
<text x="417.09" y="412.4" font-size="6.34" textLength="3.43" lengthAdjust="spacingAndGlyphs">3</text><text x="405.87" y="415.3" font-size="9.05" textLength="10.61" lengthAdjust="spacingAndGlyphs">10</text>
<text x="459.37" y="537.15" font-size="9.05" textLength="17.75" lengthAdjust="spacingAndGlyphs">−50</text>
<text x="508.44" y="537.15" font-size="9.05" textLength="5.1" lengthAdjust="spacingAndGlyphs">0</text>
<text x="548.42" y="537.15" font-size="9.05" textLength="10.55" lengthAdjust="spacingAndGlyphs">50</text>
<text x="446.51" y="552.4" font-size="13" textLength="130.48" lengthAdjust="spacingAndGlyphs">Angle of Orientation</text>
</svg></body></html>
